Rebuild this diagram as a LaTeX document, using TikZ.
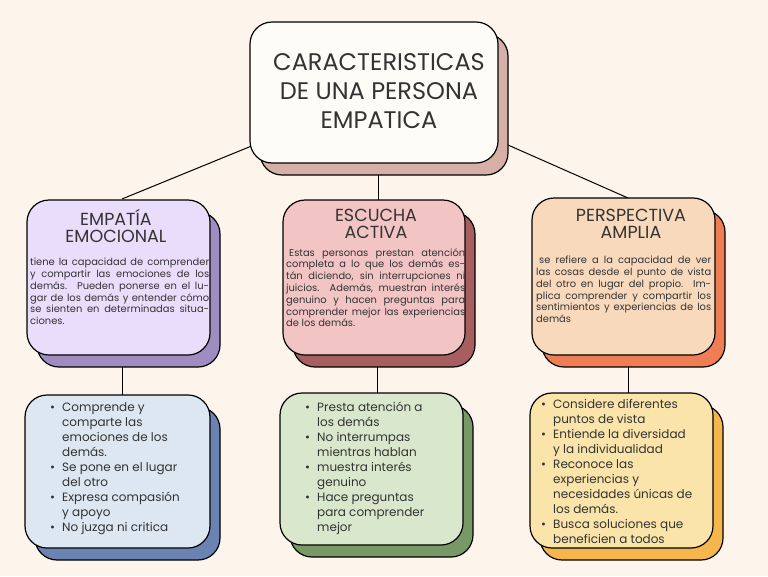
\documentclass[tikz,border=0pt]{standalone}
\usepackage{fontspec}
\setmainfont{Poppins}
\usetikzlibrary{positioning}
\definecolor{bg}{HTML}{FDF5EC}
\definecolor{tfill}{HTML}{FDFCF7}\definecolor{tsh}{HTML}{D6B0A6}
\definecolor{afill}{HTML}{EADCFB}\definecolor{ash}{HTML}{9F8CC0}
\definecolor{bfill}{HTML}{F2C4C4}\definecolor{bsh}{HTML}{A65E5E}
\definecolor{cfill}{HTML}{F9D9BC}\definecolor{csh}{HTML}{EF7E55}
\definecolor{dfill}{HTML}{DCE7F1}\definecolor{dsh}{HTML}{6A83B3}
\definecolor{efill}{HTML}{D9E8CC}\definecolor{esh}{HTML}{789865}
\definecolor{ffill}{HTML}{FAE4AA}\definecolor{fsh}{HTML}{F5B64E}
\definecolor{ink}{HTML}{333333}
\newcommand{\nohy}{\hyphenpenalty=10000\relax\exhyphenpenalty=10000\relax\emergencystretch=20pt\relax}
\tikzset{
  card/.style={draw=black,line width=1.2pt,rounded corners=22pt},
  heading/.style={font=\fontsize{17.5}{17}\selectfont,text=ink,align=center},
  body/.style={font=\fontsize{9.9}{11.8}\selectfont,text=ink,align=justify,text width=179pt,inner sep=0pt},
  blist/.style={font=\fontsize{12}{15}\selectfont,text=ink,align=left,inner sep=0pt},
  conn/.style={draw=black,line width=1pt}
}
\newcommand{\cardbox}[6]{% name, x1,y1,x2,y2, colour prefix
  \path[card,fill=#6sh] (#2+10,#3+12) rectangle (#4+10,#5+12);
  \path[card,fill=#6fill] (#2,#3) rectangle (#4,#5);
  \coordinate (#1-n) at ({(#2+#4)/2},#3);
  \coordinate (#1-s) at ({(#2+#4)/2},#5);
}
\newcommand{\bl}{\makebox[12pt][l]{\textbullet}}
\newcommand{\ind}{\hspace*{12pt}}
\begin{document}
\begin{tikzpicture}[x=1pt,y=-1pt]
\path[fill=bg] (0,0) rectangle (768,576);
\useasboundingbox (0,0) rectangle (768,576);
\coordinate (tl) at (254,145);\coordinate (tr) at (508,145);
\coordinate (al) at (122,199);\coordinate (cr) at (628,198);
\draw[conn] (tl) -- (al);
\draw[conn] (tr) -- (cr);
\draw[conn] (378,163) -- (378,200);
\draw[conn] (122,355) -- (122,396);
\draw[conn] (377,355) -- (377,394);
\draw[conn] (628,355) -- (628,394);
\cardbox{t}{250}{22}{498}{163}{t}
\node[font=\fontsize{24}{29}\selectfont,text=ink,align=center] (title) at (379,91) {CARACTERISTICAS\\DE UNA PERSONA\\EMPATICA};
\cardbox{a}{27}{200}{210}{355}{a}
\cardbox{b}{283}{200}{465}{355}{b}
\cardbox{c}{532}{198}{715}{355}{c}
\cardbox{d}{25}{395}{210}{548}{d}
\cardbox{e}{280}{393}{463}{545}{e}
\cardbox{f}{530}{393}{713}{548}{f}
\node[heading] (ah) at (116,226) {EMPATÍA\\EMOCIONAL};
\node[body,anchor=north west] (ab) at (30,258) {\nohy tiene la capacidad de comprender y compartir las emociones de los demás. Pueden ponerse en el lugar de los demás y entender cómo se sienten en determinadas situaciones.};
\node[heading] (bh) at (376,224) {ESCUCHA\\ACTIVA};
\node[body,anchor=north west] (bb) at (286,248) {\nohy\hspace*{3pt}Estas personas prestan atención completa a lo que los demás están diciendo, sin interrupciones ni juicios. Además, muestran interés genuino y hacen preguntas para comprender mejor las experiencias de los demás.};
\node[heading] (ch) at (631,224) {PERSPECTIVA\\AMPLIA};
\node[body,anchor=north west,text width=175pt] (cb) at (536,256) {\nohy\hspace*{3pt}se refiere a la capacidad de ver las cosas desde el punto de vista del otro en lugar del propio. Implica comprender y compartir los sentimientos y experiencias de los demás};
\node[blist,anchor=north west] (dl) at (50,402) {\bl Comprende y\\\ind comparte las\\\ind emociones de los\\\ind demás.\\\bl Se pone en el lugar\\\ind del otro\\\bl Expresa compasión\\\ind y apoyo\\\bl No juzga ni critica};
\node[blist,anchor=north west] (el) at (305,402) {\bl Presta atención a\\\ind los demás\\\bl No interrumpas\\\ind mientras hablan\\\bl muestra interés\\\ind genuino\\\bl Hace preguntas\\\ind para comprender\\\ind mejor};
\node[blist,anchor=north west] (fl) at (541,399) {\bl Considere diferentes\\\ind puntos de vista\\\bl Entiende la diversidad\\\ind y la individualidad\\\bl Reconoce las\\\ind experiencias y\\\ind necesidades únicas de\\\ind los demás.\\\bl Busca soluciones que\\\ind beneficien a todos};
\end{tikzpicture}
\end{document}
